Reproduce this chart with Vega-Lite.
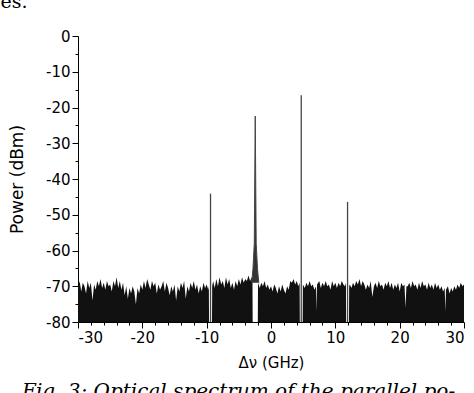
{
  "$schema": "https://vega.github.io/schema/vega-lite/v6.json",
  "background": "white",
  "padding": {"left": 0, "top": -7, "right": 0, "bottom": 0},
  "title": {"text": "es.", "anchor": "start", "frame": "bounds", "font": "DejaVu Serif", "fontSize": 19, "fontWeight": "normal", "color": "black", "dx": -8, "offset": 17},
  "datasets": {
    "noise": [
      {"x": -30, "y": -70.5}, {"x": -29.75, "y": -68.5}, {"x": -29.5, "y": -71.5}, {"x": -29.25, "y": -69}, {"x": -29, "y": -70}, {"x": -28.75, "y": -72}, {"x": -28.5, "y": -68.5}, {"x": -28.25, "y": -70.5}, {"x": -28, "y": -69}, {"x": -27.75, "y": -74},
      {"x": -27.5, "y": -69.5}, {"x": -27.25, "y": -71}, {"x": -27, "y": -68.5}, {"x": -26.75, "y": -70}, {"x": -26.5, "y": -68}, {"x": -26.25, "y": -70.5}, {"x": -26, "y": -69}, {"x": -25.75, "y": -71}, {"x": -25.5, "y": -68.5}, {"x": -25.25, "y": -70},
      {"x": -25, "y": -69.5}, {"x": -24.75, "y": -71.5}, {"x": -24.5, "y": -68.5}, {"x": -24.25, "y": -70}, {"x": -24, "y": -67.5}, {"x": -23.75, "y": -70.5}, {"x": -23.5, "y": -68.5}, {"x": -23.25, "y": -71}, {"x": -23, "y": -69}, {"x": -22.75, "y": -72.5},
      {"x": -22.5, "y": -70}, {"x": -22.25, "y": -73.5}, {"x": -22, "y": -70.5}, {"x": -21.75, "y": -72}, {"x": -21.5, "y": -70}, {"x": -21.25, "y": -71.5}, {"x": -21, "y": -75}, {"x": -20.75, "y": -70.5}, {"x": -20.5, "y": -72}, {"x": -20.25, "y": -69.5},
      {"x": -20, "y": -71}, {"x": -19.75, "y": -68.5}, {"x": -19.5, "y": -70.5}, {"x": -19.25, "y": -68}, {"x": -19, "y": -69.5}, {"x": -18.75, "y": -71}, {"x": -18.5, "y": -68.5}, {"x": -18.25, "y": -70}, {"x": -18, "y": -69}, {"x": -17.75, "y": -72},
      {"x": -17.5, "y": -69.5}, {"x": -17.25, "y": -71}, {"x": -17, "y": -70}, {"x": -16.75, "y": -68.5}, {"x": -16.5, "y": -71.5}, {"x": -16.25, "y": -69}, {"x": -16, "y": -70.5}, {"x": -15.75, "y": -72.5}, {"x": -15.5, "y": -70}, {"x": -15.25, "y": -71.5},
      {"x": -15, "y": -69.5}, {"x": -14.75, "y": -74}, {"x": -14.5, "y": -70}, {"x": -14.25, "y": -71.5}, {"x": -14, "y": -69}, {"x": -13.75, "y": -70.5}, {"x": -13.5, "y": -68.5}, {"x": -13.25, "y": -73.5}, {"x": -13, "y": -70}, {"x": -12.75, "y": -71.5},
      {"x": -12.5, "y": -69}, {"x": -12.25, "y": -70.5}, {"x": -12, "y": -68.5}, {"x": -11.75, "y": -71}, {"x": -11.5, "y": -69.5}, {"x": -11.25, "y": -72}, {"x": -11, "y": -70}, {"x": -10.75, "y": -71.5}, {"x": -10.5, "y": -69}, {"x": -10.25, "y": -70.5},
      {"x": -10, "y": -69.5}, {"x": -9.75, "y": -71}, {"x": -9.66, "y": -70}, {"x": -9.63, "y": -80}, {"x": -9.17, "y": -80}, {"x": -9.14, "y": -70}, {"x": -9, "y": -68.5}, {"x": -8.75, "y": -70.5}, {"x": -8.5, "y": -68}, {"x": -8.25, "y": -70},
      {"x": -8, "y": -67.5}, {"x": -7.75, "y": -69.5}, {"x": -7.5, "y": -68.5}, {"x": -7.25, "y": -70.5}, {"x": -7, "y": -67.5}, {"x": -6.75, "y": -69.5}, {"x": -6.5, "y": -68}, {"x": -6.25, "y": -70.5}, {"x": -6, "y": -69}, {"x": -5.75, "y": -71},
      {"x": -5.5, "y": -68.5}, {"x": -5.25, "y": -70}, {"x": -5, "y": -68}, {"x": -4.75, "y": -69.5}, {"x": -4.5, "y": -67.5}, {"x": -4.25, "y": -69}, {"x": -4, "y": -68}, {"x": -3.75, "y": -68.5}, {"x": -3.5, "y": -67}, {"x": -3.25, "y": -68.5},
      {"x": -3, "y": -67.5}, {"x": -2.88, "y": -68}, {"x": -2.85, "y": -80}, {"x": -2.05, "y": -80}, {"x": -2.02, "y": -69}, {"x": -1.75, "y": -70.5}, {"x": -1.5, "y": -69}, {"x": -1.25, "y": -70}, {"x": -1, "y": -68.5}, {"x": -0.75, "y": -70.5},
      {"x": -0.5, "y": -69.5}, {"x": -0.25, "y": -71}, {"x": 0, "y": -70}, {"x": 0.25, "y": -71.5}, {"x": 0.5, "y": -69.5}, {"x": 0.75, "y": -70.5}, {"x": 1, "y": -72}, {"x": 1.25, "y": -70}, {"x": 1.5, "y": -71.5}, {"x": 1.75, "y": -69.5},
      {"x": 2, "y": -71}, {"x": 2.25, "y": -72}, {"x": 2.5, "y": -70}, {"x": 2.75, "y": -71}, {"x": 3, "y": -68.5}, {"x": 3.25, "y": -69}, {"x": 3.5, "y": -68}, {"x": 3.75, "y": -69.5}, {"x": 4, "y": -68.5}, {"x": 4.25, "y": -70},
      {"x": 4.45, "y": -69}, {"x": 4.48, "y": -80}, {"x": 4.92, "y": -80}, {"x": 4.95, "y": -69.5}, {"x": 5.25, "y": -70.5}, {"x": 5.5, "y": -69}, {"x": 5.75, "y": -70}, {"x": 6, "y": -68.5}, {"x": 6.25, "y": -70}, {"x": 6.5, "y": -69.5},
      {"x": 6.75, "y": -71}, {"x": 7, "y": -70}, {"x": 7.08, "y": -77}, {"x": 7.16, "y": -69.5}, {"x": 7.5, "y": -68.5}, {"x": 7.75, "y": -70.5}, {"x": 8, "y": -69}, {"x": 8.25, "y": -70}, {"x": 8.5, "y": -68.5}, {"x": 8.75, "y": -70},
      {"x": 9, "y": -69.5}, {"x": 9.25, "y": -71}, {"x": 9.5, "y": -68.5}, {"x": 9.75, "y": -70}, {"x": 10, "y": -69}, {"x": 10.25, "y": -70.5}, {"x": 10.5, "y": -69}, {"x": 10.75, "y": -70}, {"x": 11, "y": -68.5}, {"x": 11.25, "y": -69.5},
      {"x": 11.5, "y": -70}, {"x": 11.65, "y": -69}, {"x": 11.68, "y": -80}, {"x": 12.12, "y": -80}, {"x": 12.15, "y": -70}, {"x": 12.25, "y": -69.5}, {"x": 12.5, "y": -70.5}, {"x": 12.75, "y": -69}, {"x": 13, "y": -70}, {"x": 13.25, "y": -68.5},
      {"x": 13.5, "y": -69.5}, {"x": 13.75, "y": -68}, {"x": 14, "y": -70}, {"x": 14.25, "y": -68.5}, {"x": 14.5, "y": -69.5}, {"x": 14.75, "y": -71}, {"x": 15, "y": -69.5}, {"x": 15.25, "y": -70.5}, {"x": 15.5, "y": -68.5}, {"x": 15.75, "y": -73},
      {"x": 16, "y": -70}, {"x": 16.25, "y": -69}, {"x": 16.5, "y": -70.5}, {"x": 16.75, "y": -68.5}, {"x": 17, "y": -70}, {"x": 17.25, "y": -69.5}, {"x": 17.5, "y": -71}, {"x": 17.75, "y": -69}, {"x": 18, "y": -70}, {"x": 18.25, "y": -68.5},
      {"x": 18.5, "y": -70.5}, {"x": 18.75, "y": -69}, {"x": 19, "y": -71}, {"x": 19.25, "y": -69.5}, {"x": 19.5, "y": -70.5}, {"x": 19.75, "y": -69}, {"x": 20, "y": -71.5}, {"x": 20.25, "y": -69}, {"x": 20.5, "y": -70}, {"x": 20.75, "y": -69.5},
      {"x": 20.9, "y": -76}, {"x": 21.05, "y": -70}, {"x": 21.25, "y": -70}, {"x": 21.5, "y": -69}, {"x": 21.75, "y": -70.5}, {"x": 22, "y": -68.5}, {"x": 22.25, "y": -70}, {"x": 22.5, "y": -69.5}, {"x": 22.75, "y": -71}, {"x": 23, "y": -69},
      {"x": 23.25, "y": -70.5}, {"x": 23.5, "y": -68.5}, {"x": 23.75, "y": -70}, {"x": 24, "y": -69.5}, {"x": 24.25, "y": -71}, {"x": 24.5, "y": -69}, {"x": 24.75, "y": -70.5}, {"x": 25, "y": -69.5}, {"x": 25.25, "y": -71}, {"x": 25.5, "y": -69},
      {"x": 25.75, "y": -70.5}, {"x": 26, "y": -69.5}, {"x": 26.25, "y": -71}, {"x": 26.5, "y": -70}, {"x": 26.75, "y": -71.5}, {"x": 27, "y": -70.5}, {"x": 27.1, "y": -77}, {"x": 27.2, "y": -71}, {"x": 27.5, "y": -70}, {"x": 27.75, "y": -72},
      {"x": 28, "y": -70.5}, {"x": 28.25, "y": -71.5}, {"x": 28.5, "y": -70}, {"x": 28.75, "y": -71}, {"x": 29, "y": -69.5}, {"x": 29.25, "y": -70.5}, {"x": 29.5, "y": -69}, {"x": 29.75, "y": -70}, {"x": 30, "y": -69.5}
    ],
    "spikes": [
      {"x": -9.4, "y": -44.1},
      {"x": 4.7, "y": -16.6},
      {"x": 11.9, "y": -46.4}
    ],
    "peak": [
      {"x": -3.0, "y": -69},
      {"x": -2.8, "y": -65},
      {"x": -2.6, "y": -58},
      {"x": -2.45, "y": -22.4},
      {"x": -2.3, "y": -58},
      {"x": -2.1, "y": -65},
      {"x": -1.9, "y": -69}
    ]
  },
  "config": {
    "view": {"stroke": null},
    "axis": {
      "labelFont": "DejaVu Sans", "labelFontSize": 15, "labelColor": "black",
      "titleFont": "DejaVu Sans", "titleFontSize": 17, "titleFontWeight": "normal", "titleColor": "black",
      "domainColor": "black", "tickColor": "black", "grid": false
    }
  },
  "vconcat": [
    {
      "width": 386,
      "height": 286,
      "title": {"text": "Fig. 3: Optical spectrum of the parallel po-", "orient": "bottom", "anchor": "start", "frame": "group", "font": "DejaVu Serif", "fontStyle": "italic", "fontSize": 20, "fontWeight": "normal", "color": "black", "dx": -56, "offset": 12},
      "encoding": {
        "x": {
          "field": "x", "type": "quantitative",
          "scale": {"domain": [-30, 30], "nice": false, "zero": false},
          "axis": {
            "title": "Δν (GHz)",
            "titleFont": "DejaVu Sans",
            "titleFontSize": 15,
            "values": [-30, -28, -26, -24, -22, -20, -18, -16, -14, -12, -10, -8, -6, -4, -2, 0, 2, 4, 6, 8, 10, 12, 14, 16, 18, 20, 22, 24, 26, 28, 30],
            "labelExpr": "datum.value % 10 === 0 ? '' + datum.value : ''",
            "tickSize": {"condition": {"test": "datum.value % 10 === 0", "value": 6}, "value": 3},
            "labelPadding": 2,
            "titlePadding": 10
          }
        },
        "y": {
          "field": "y", "type": "quantitative",
          "scale": {"domain": [-80, 0], "nice": false, "zero": false},
          "axis": {
            "title": "Power (dBm)",
            "values": [-80, -75, -70, -65, -60, -55, -50, -45, -40, -35, -30, -25, -20, -15, -10, -5, 0],
            "labelExpr": "datum.value % 10 === 0 ? '' + datum.value : ''",
            "tickSize": {"condition": {"test": "datum.value % 10 === 0", "value": 6}, "value": 3},
            "labelPadding": 2,
            "titlePadding": 19
          }
        }
      },
      "layer": [
        {
          "data": {"name": "noise"},
          "mark": {"type": "area", "color": "#111111", "interpolate": "linear"},
          "encoding": {"y2": {"datum": -80}}
        },
        {
          "data": {"name": "spikes"},
          "mark": {"type": "rule", "color": "#444444", "strokeWidth": 1.3},
          "encoding": {"y2": {"datum": -80}}
        },
        {
          "data": {"name": "peak"},
          "mark": {"type": "area", "color": "#333333", "interpolate": "linear"},
          "encoding": {"y2": {"datum": -69}}
        },
        {
          "data": {"name": "peak"},
          "mark": {"type": "line", "color": "#444444", "strokeWidth": 1}
        }
      ]
    }
  ]
}
